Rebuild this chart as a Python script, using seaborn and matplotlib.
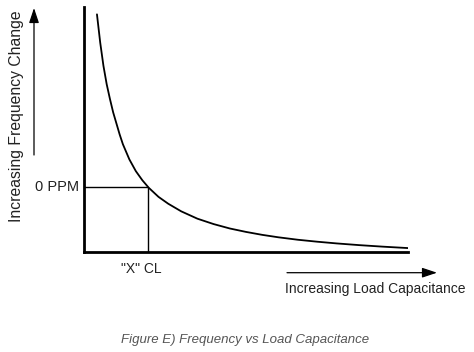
import matplotlib
matplotlib.use("Agg")
import matplotlib.pyplot as plt
import seaborn as sns
import pandas as pd

# Curve (arbitrary units: capacitance 0-100, frequency change 0-100)
load_capacitance = [4, 5, 6, 7, 8, 9, 10, 11, 12, 14, 16, 18, 20, 23, 26, 30,
                    35, 40, 45, 50, 55, 60, 66, 72, 78, 85, 92, 100]
frequency_change = [97.0, 85.5, 76.0, 68.5, 62.5, 57.0, 52.5, 48.0, 44.0, 37.8, 33.0, 29.3,
                    26.2, 22.5, 19.7, 16.6, 13.6, 11.4, 9.6, 8.2, 7.0, 6.0, 5.0, 4.2,
                    3.5, 2.8, 2.2, 1.6]
x_cl = 19.75        # "X" CL
y_ppm = 26.5        # 0 PPM

sns.set_style("white")
plt.rcParams['font.family'] = ['Liberation Sans', 'DejaVu Sans']

df = pd.DataFrame({"cap": load_capacitance, "freq": frequency_change})

fig = plt.figure(figsize=(4.74, 3.52), dpi=100)
ax = fig.add_axes([84/474, 1-252/352, 324/474, 245/352])

sns.lineplot(data=df, x="cap", y="freq", sort=False, color="black", linewidth=1.3, ax=ax)
ax.plot([0, x_cl], [y_ppm, y_ppm], color="black", linewidth=1.0, solid_capstyle="butt")
ax.plot([x_cl, x_cl], [0, y_ppm], color="black", linewidth=1.0, solid_capstyle="butt")

ax.set_xlim(0, 100)
ax.set_ylim(0, 100)
ax.set_xticks([])
ax.set_yticks([])
ax.set_xlabel("")
ax.set_ylabel("")
for s in ["top", "right"]:
    ax.spines[s].set_visible(False)
for s in ["left", "bottom"]:
    ax.spines[s].set_color("black")
    ax.spines[s].set_linewidth(2.0)

ax.annotate("0 PPM", xy=(0, y_ppm), xytext=(-3.5, 0), textcoords="offset points",
            ha="right", va="center", fontsize=10.5, color="#222222")
ax.annotate('"X" CL', xy=(x_cl, 0), xytext=(-4.5, -12), textcoords="offset points",
            ha="center", va="center", fontsize=10, color="#222222")

# Axis arrows
ax.annotate("", xy=(34/474, 1-8/352), xycoords="figure fraction",
            xytext=(34/474, 1-155/352), textcoords="figure fraction",
            arrowprops=dict(arrowstyle="-|>,head_length=0.9,head_width=0.3",
                            color="black", lw=0.9, shrinkA=0, shrinkB=0))
ax.annotate("", xy=(437/474, 1-272.7/352), xycoords="figure fraction",
            xytext=(287/474, 1-272.7/352), textcoords="figure fraction",
            arrowprops=dict(arrowstyle="-|>,head_length=0.9,head_width=0.3",
                            color="black", lw=0.9, shrinkA=0, shrinkB=0))

fig.text(17/474, 1-116/352, "Increasing Frequency Change", rotation=90,
         ha="center", va="center", fontsize=11.3, color="#222222")
fig.text(375.5/474, 1-288.5/352, "Increasing Load Capacitance",
         ha="center", va="center", fontsize=10, color="#222222")
fig.text(245/474, 1-340/352, "Figure E) Frequency vs Load Capacitance",
         ha="center", va="center", fontsize=9.5, style="italic", color="#555555")

fig.savefig("out.png", dpi=100)
